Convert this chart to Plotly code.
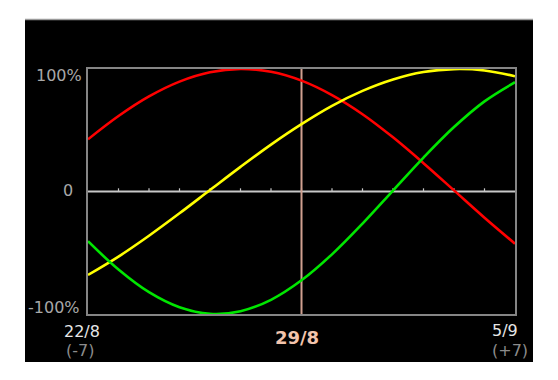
import plotly.graph_objects as go

# ---- data ----
days = [-7, -6, -5, -4, -3, -2, -1, 0, 1, 2, 3, 4, 5, 6, 7]
emotional = [42.6, 61.6, 77.6, 89.7, 97.3, 100.0, 97.7, 90.5, 78.7, 63.1, 44.2, 23.1, 0.9, -21.4, -42.6]
physical = [-40.6, -63.7, -82.2, -94.5, -99.8, -97.7, -88.4, -72.5, -51.3, -26.2, 0.8, 27.7, 52.6, 73.6, 89.2]
intellectual = [-68.1, -53.1, -36.1, -17.8, 1.2, 20.1, 38.3, 55.0, 69.9, 82.1, 91.4, 97.5, 99.9, 98.8, 94.1]
y_tick_vals = [100, 0, -100]
y_tick_text = ["100%", "0", "-100%"]
date_labels = ["22/8", "29/8", "5/9"]
offset_labels = ["(-7)", "", "(+7)"]

W, H = 558, 380
L, R, T, B = 88, 515, 69, 314  # plot area in pixels


def pxx(p):
    return (p - L) / (R - L)


def pxy(p):
    return (B - p) / (B - T)


FONT = "DejaVu Sans"

fig = go.Figure()
series = [
    (emotional, "#ff0000"),
    (intellectual, "#ffff00"),
    (physical, "#00e600"),
]
for vals, col in series:
    fig.add_trace(go.Scatter(
        x=days, y=vals, mode="lines",
        line=dict(color=col, width=2.6, shape="spline", smoothing=1.0),
        hoverinfo="skip", showlegend=False,
    ))

shapes = []
# black panel
shapes.append(dict(type="rect", xref="paper", yref="paper",
                   x0=pxx(25), x1=pxx(533), y0=pxy(362), y1=pxy(19.5),
                   fillcolor="#000000", line=dict(width=0), layer="below"))
shapes.append(dict(type="line", xref="paper", yref="paper",
                   x0=pxx(25), x1=pxx(533), y0=pxy(19.5), y1=pxy(19.5),
                   line=dict(color="#9a9a9a", width=1.5), layer="below"))
# zero line
shapes.append(dict(type="line", xref="x", yref="y",
                   x0=days[0], x1=days[-1], y0=0, y1=0,
                   line=dict(color="#c8c8c8", width=2), layer="below"))
# day ticks on zero line
for d in days[1:-1]:
    shapes.append(dict(type="line", xref="x", yref="y",
                       x0=d, x1=d, y0=0, y1=2.6,
                       line=dict(color="#c8c8c8", width=1.2), layer="below"))
# today line
shapes.append(dict(type="line", xref="x", yref="y",
                   x0=0, x1=0, y0=-100, y1=100,
                   line=dict(color="#d0a090", width=2), layer="below"))

annotations = []
# y labels
yshifts = [-6, 1.5, 7]
xshifts = [-4, -13, -6]
for v, t, s, xs in zip(y_tick_vals, y_tick_text, yshifts, xshifts):
    annotations.append(dict(xref="paper", yref="y", x=0, y=v, text=t,
                            xanchor="right", yanchor="middle", xshift=xs, yshift=s,
                            showarrow=False,
                            font=dict(family=FONT, size=16, color="#a8a8a8")))
# date labels
annotations.append(dict(xref="paper", yref="paper", x=pxx(82), y=pxy(331),
                        text=date_labels[0], xanchor="center", yanchor="middle",
                        showarrow=False, font=dict(family=FONT, size=16, color="#e6e6e6")))
annotations.append(dict(xref="paper", yref="paper", x=pxx(80), y=pxy(350),
                        text=offset_labels[0], xanchor="center", yanchor="middle",
                        showarrow=False, font=dict(family=FONT, size=16, color="#8c8c8c")))
annotations.append(dict(xref="paper", yref="paper", x=pxx(297), y=pxy(337.5),
                        text="<b>" + date_labels[1] + "</b>", xanchor="center", yanchor="middle",
                        showarrow=False, font=dict(family=FONT, size=18, color="#f2c4ac")))
annotations.append(dict(xref="paper", yref="paper", x=pxx(504.5), y=pxy(330),
                        text=date_labels[2], xanchor="center", yanchor="middle",
                        showarrow=False, font=dict(family=FONT, size=16, color="#e6e6e6")))
annotations.append(dict(xref="paper", yref="paper", x=pxx(510), y=pxy(350),
                        text=offset_labels[2], xanchor="center", yanchor="middle",
                        showarrow=False, font=dict(family=FONT, size=16, color="#8c8c8c")))

axis_common = dict(showgrid=False, zeroline=False, showline=True, mirror=True,
                   linecolor="#858585", linewidth=2, showticklabels=False, ticks="",
                   fixedrange=True)

fig.update_layout(
    width=W, height=H,
    margin=dict(l=L, r=W - R, t=T, b=H - B, pad=0),
    paper_bgcolor="#ffffff", plot_bgcolor="#000000",
    xaxis=dict(range=[days[0], days[-1]], **axis_common),
    yaxis=dict(range=[-100, 100], **axis_common),
    shapes=shapes, annotations=annotations,
    showlegend=False,
)

fig.write_html("out.html")
